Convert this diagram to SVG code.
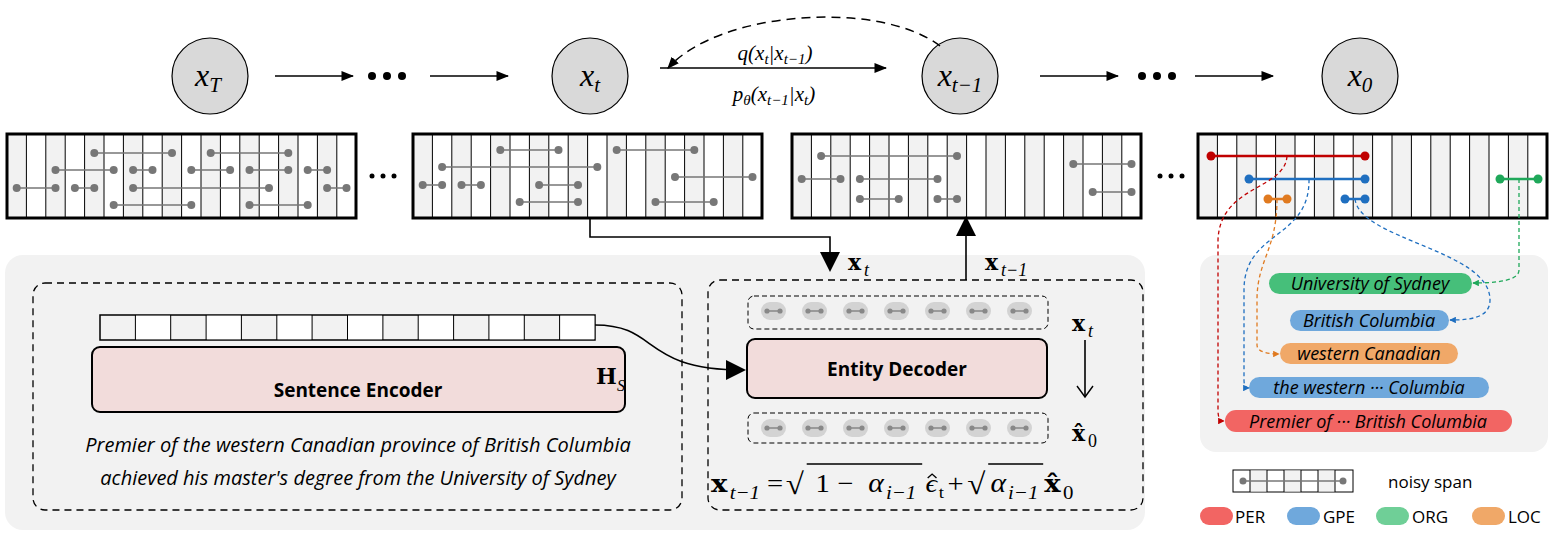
<svg xmlns="http://www.w3.org/2000/svg" width="1552" height="533" viewBox="0 0 1552 533">
<defs>
<style>
.node{fill:#d9d9d9;stroke:#000;stroke-width:1.2}
.m{font-family:"Liberation Serif","DejaVu Serif",serif;font-style:italic}
.r{font-family:"Liberation Serif","DejaVu Serif",serif}
.b{font-family:"DejaVu Serif","Liberation Serif",serif;font-weight:bold}
.s{font-family:"Open Sans","Liberation Sans",sans-serif}
.ln{stroke:#000;stroke-width:1.6;fill:none}
.sg{stroke:#777;stroke-width:1.5}
.dt{fill:#777}
.frame{fill:none;stroke:#000;stroke-width:3}
.cg{fill:#f2f2f2}
.cl{stroke:#000;stroke-width:1}
.dash{fill:none;stroke:#000;stroke-width:1.3;stroke-dasharray:7 5}
.pill{fill:#d3d3d3}
</style>
<marker id="ah" viewBox="0 0 10 10" refX="9" refY="5" markerWidth="8" markerHeight="8" orient="auto"><path d="M0,1 L10,5 L0,9 z" fill="#000"/></marker>
<marker id="ahb2" viewBox="0 0 10 10" refX="9" refY="5" markerWidth="20" markerHeight="20" markerUnits="userSpaceOnUse" orient="auto"><path d="M0,0 L10,5 L0,10 z" fill="#000"/></marker>
<marker id="ar" viewBox="0 0 10 10" refX="9" refY="5" markerWidth="5" markerHeight="5" orient="auto"><path d="M0,0 L10,5 L0,10 z" fill="#c00000"/></marker>
<marker id="ab" viewBox="0 0 10 10" refX="9" refY="5" markerWidth="5" markerHeight="5" orient="auto"><path d="M0,0 L10,5 L0,10 z" fill="#1f6fc0"/></marker>
<marker id="ao" viewBox="0 0 10 10" refX="9" refY="5" markerWidth="5" markerHeight="5" orient="auto"><path d="M0,0 L10,5 L0,10 z" fill="#e07a20"/></marker>
<marker id="ag" viewBox="0 0 10 10" refX="9" refY="5" markerWidth="5" markerHeight="5" orient="auto"><path d="M0,0 L10,5 L0,10 z" fill="#1fa85a"/></marker>
<g id="cols">
<rect x="0" y="0" width="19.4" height="84" class="cg"/><rect x="38.8" y="0" width="19.4" height="84" class="cg"/><rect x="77.6" y="0" width="19.4" height="84" class="cg"/><rect x="116.4" y="0" width="19.4" height="84" class="cg"/><rect x="155.2" y="0" width="19.4" height="84" class="cg"/><rect x="194" y="0" width="19.4" height="84" class="cg"/><rect x="232.8" y="0" width="19.4" height="84" class="cg"/><rect x="271.6" y="0" width="19.4" height="84" class="cg"/><rect x="310.4" y="0" width="19.4" height="84" class="cg"/>
<path class="cl" d="M19.4,0V84M38.8,0V84M58.2,0V84M77.6,0V84M97,0V84M116.4,0V84M135.8,0V84M155.2,0V84M174.6,0V84M194,0V84M213.4,0V84M232.8,0V84M252.2,0V84M271.6,0V84M291,0V84M310.4,0V84M329.8,0V84"/>
<rect x="0" y="0" width="349" height="84" class="frame"/>
</g>
</defs>
<rect width="1552" height="533" fill="#fff"/>
<rect x="5" y="255" width="1140" height="275" rx="18" fill="#f2f2f2"/>
<rect x="1200" y="255" width="348" height="197" rx="16" fill="#f2f2f2"/>

<g id="nodes">
<g id="n-xT"><circle cx="210" cy="76" r="38" class="node"/><text x="208" y="86" text-anchor="middle" class="m" font-size="32">x<tspan font-size="21" dy="6">T</tspan></text></g>
<g id="n-xt"><circle cx="590" cy="76" r="38" class="node"/><text x="590" y="86" text-anchor="middle" class="m" font-size="32">x<tspan font-size="21" dy="6">t</tspan></text></g>
<g id="n-xt1"><circle cx="960" cy="76" r="38" class="node"/><text x="960" y="86" text-anchor="middle" class="m" font-size="32">x<tspan font-size="21" dy="6">t−1</tspan></text></g>
<g id="n-x0"><circle cx="1360" cy="76" r="38" class="node"/><text x="1360" y="86" text-anchor="middle" class="m" font-size="32">x<tspan font-size="21" dy="6">0</tspan></text></g>
<g fill="#000"><circle cx="372" cy="76" r="4"/><circle cx="387" cy="76" r="4"/><circle cx="402" cy="76" r="4"/><circle cx="1142" cy="76" r="4"/><circle cx="1157" cy="76" r="4"/><circle cx="1172" cy="76" r="4"/>
<circle cx="372" cy="176" r="2.5"/><circle cx="383" cy="176" r="2.5"/><circle cx="394" cy="176" r="2.5"/><circle cx="1160" cy="176" r="2.5"/><circle cx="1171" cy="176" r="2.5"/><circle cx="1182" cy="176" r="2.5"/></g>

<g id="strip1" transform="translate(7,134)"><use href="#cols"/>
<g class="sg"><path d="M87.3,19H165M203.7,19H281.3M48.5,36H106.7M126.1,36H145.5M184.3,36H223.1M242.5,36H281.3M300.7,36H320.1M9.7,54H48.5M67.9,54H87.3M126.1,54H262M320.1,54H339.5M106.7,71H184.3M242.5,71H300.7"/></g>
<g class="dt"><circle cx="87.3" cy="19" r="4"/><circle cx="165" cy="19" r="4"/><circle cx="203.7" cy="19" r="4"/><circle cx="281.3" cy="19" r="4"/><circle cx="48.5" cy="36" r="4"/><circle cx="106.7" cy="36" r="4"/><circle cx="126.1" cy="36" r="4"/><circle cx="145.5" cy="36" r="4"/><circle cx="184.3" cy="36" r="4"/><circle cx="223.1" cy="36" r="4"/><circle cx="242.5" cy="36" r="4"/><circle cx="281.3" cy="36" r="4"/><circle cx="300.7" cy="36" r="4"/><circle cx="320.1" cy="36" r="4"/><circle cx="9.7" cy="54" r="4"/><circle cx="48.5" cy="54" r="4"/><circle cx="67.9" cy="54" r="4"/><circle cx="87.3" cy="54" r="4"/><circle cx="126.1" cy="54" r="4"/><circle cx="262" cy="54" r="4"/><circle cx="320.1" cy="54" r="4"/><circle cx="339.5" cy="54" r="4"/><circle cx="106.7" cy="71" r="4"/><circle cx="184.3" cy="71" r="4"/><circle cx="242.5" cy="71" r="4"/><circle cx="300.7" cy="71" r="4"/></g></g>

<g id="strip2" transform="translate(413,134)"><use href="#cols"/>
<g class="sg"><path d="M87.3,16H145.5M203.7,16H281.3M29.1,33H184.3M262,43H339.5M9.7,51H29.1M48.5,51H67.9M126.1,51H165M106.7,68H165M242.5,68H300.7"/></g>
<g class="dt"><circle cx="87.3" cy="16" r="4"/><circle cx="145.5" cy="16" r="4"/><circle cx="203.7" cy="16" r="4"/><circle cx="281.3" cy="16" r="4"/><circle cx="29.1" cy="33" r="4"/><circle cx="184.3" cy="33" r="4"/><circle cx="262" cy="43" r="4"/><circle cx="339.5" cy="43" r="4"/><circle cx="9.7" cy="51" r="4"/><circle cx="29.1" cy="51" r="4"/><circle cx="48.5" cy="51" r="4"/><circle cx="67.9" cy="51" r="4"/><circle cx="126.1" cy="51" r="4"/><circle cx="165" cy="51" r="4"/><circle cx="106.7" cy="68" r="4"/><circle cx="165" cy="68" r="4"/><circle cx="242.5" cy="68" r="4"/><circle cx="300.7" cy="68" r="4"/></g></g>

<g id="strip3" transform="translate(792,134)"><use href="#cols"/>
<g class="sg"><path d="M29.1,22H165M281.3,30H339.5M9.7,45H48.5M67.9,45H145.5M300.7,58H339.5M67.9,65H106.7M145.5,65H165"/></g>
<g class="dt"><circle cx="29.1" cy="22" r="4"/><circle cx="165" cy="22" r="4"/><circle cx="281.3" cy="30" r="4"/><circle cx="339.5" cy="30" r="4"/><circle cx="9.7" cy="45" r="4"/><circle cx="48.5" cy="45" r="4"/><circle cx="67.9" cy="45" r="4"/><circle cx="145.5" cy="45" r="4"/><circle cx="300.7" cy="58" r="4"/><circle cx="339.5" cy="58" r="4"/><circle cx="67.9" cy="65" r="4"/><circle cx="106.7" cy="65" r="4"/><circle cx="145.5" cy="65" r="4"/><circle cx="165" cy="65" r="4"/></g></g>

<g id="strip4" transform="translate(1198,134)"><use href="#cols"/>
<path d="M13,22H167" stroke="#c00000" stroke-width="2.5"/><circle cx="13" cy="22" r="4.5" fill="#c00000"/><circle cx="167" cy="22" r="4.5" fill="#c00000"/>
<path d="M51,45H167" stroke="#1f6fc0" stroke-width="2.5"/><circle cx="51" cy="45" r="4.5" fill="#1f6fc0"/><circle cx="167" cy="45" r="4.5" fill="#1f6fc0"/>
<path d="M302,45H340" stroke="#1fa85a" stroke-width="2.5"/><circle cx="302" cy="45" r="4.5" fill="#1fa85a"/><circle cx="340" cy="45" r="4.5" fill="#1fa85a"/>
<path d="M70,65H89" stroke="#e07a20" stroke-width="2.5"/><circle cx="70" cy="65" r="4.5" fill="#e07a20"/><circle cx="89" cy="65" r="4.5" fill="#e07a20"/>
<path d="M147,65H167" stroke="#1f6fc0" stroke-width="2.5"/><circle cx="147" cy="65" r="4.5" fill="#1f6fc0"/><circle cx="167" cy="65" r="4.5" fill="#1f6fc0"/></g>

<g id="encoder-box"><rect x="33" y="283" width="649" height="227" rx="12" class="dash"/>
<g id="tokens"><rect x="100" y="315" width="495" height="25" fill="#f2f2f2" stroke="#000" stroke-width="1.5"/>
<path fill="#fff" d="M135.9,315.8h34.3v23.4h-34.3zM206.6,315.8h34.3v23.4h-34.3zM277.3,315.8h34.3v23.4h-34.3zM348,315.8h34.3v23.4h-34.3zM418.7,315.8h34.3v23.4h-34.3zM489.4,315.8h34.3v23.4h-34.3zM560.1,315.8h34.3v23.4h-34.3z"/>
<path stroke="#000" stroke-width="1" d="M135.4,315V340M170.7,315V340M206.1,315V340M241.4,315V340M276.8,315V340M312.1,315V340M347.5,315V340M382.9,315V340M418.2,315V340M453.6,315V340M488.9,315V340M524.3,315V340M559.6,315V340"/></g>
<rect x="92" y="347" width="533" height="65" rx="8" fill="#f2dcdb" stroke="#000" stroke-width="2"/>
<text x="358" y="397" text-anchor="middle" class="s" font-weight="bold" font-size="19">Sentence Encoder</text>
<text x="358" y="452" text-anchor="middle" class="s" font-style="italic" font-size="20">Premier of the western Canadian province of British Columbia</text>
<text x="358" y="485" text-anchor="middle" class="s" font-style="italic" font-size="20">achieved his master's degree from the University of Sydney</text>
<text x="596" y="384" class="b" font-size="22">H</text><text x="617" y="391" class="m" font-size="16">S</text></g>

<g id="decoder-box"><rect x="708" y="280" width="435" height="230" rx="12" class="dash"/>
<rect x="748" y="296" width="300" height="33" rx="6" fill="none" stroke="#000" stroke-dasharray="5 3"/>
<rect x="748" y="413" width="300" height="30" rx="6" fill="none" stroke="#000" stroke-dasharray="5 3"/>
<g id="pills">
<g id="pillrow"><rect x="761" y="302" width="25" height="18" rx="9" class="pill"/><rect x="802" y="302" width="25" height="18" rx="9" class="pill"/><rect x="843" y="302" width="25" height="18" rx="9" class="pill"/><rect x="884" y="302" width="25" height="18" rx="9" class="pill"/><rect x="925" y="302" width="25" height="18" rx="9" class="pill"/><rect x="966" y="302" width="25" height="18" rx="9" class="pill"/><rect x="1007" y="302" width="25" height="18" rx="9" class="pill"/>
<path d="M767,311h13M808,311h13M849,311h13M890,311h13M931,311h13M972,311h13M1013,311h13" stroke="#888" stroke-width="1.5"/>
<g fill="#888"><circle cx="767" cy="311" r="2.6"/><circle cx="780" cy="311" r="2.6"/><circle cx="808" cy="311" r="2.6"/><circle cx="821" cy="311" r="2.6"/><circle cx="849" cy="311" r="2.6"/><circle cx="862" cy="311" r="2.6"/><circle cx="890" cy="311" r="2.6"/><circle cx="903" cy="311" r="2.6"/><circle cx="931" cy="311" r="2.6"/><circle cx="944" cy="311" r="2.6"/><circle cx="972" cy="311" r="2.6"/><circle cx="985" cy="311" r="2.6"/><circle cx="1013" cy="311" r="2.6"/><circle cx="1026" cy="311" r="2.6"/></g></g>
<use href="#pillrow" y="117"/></g>
<rect x="747" y="339" width="300" height="59" rx="8" fill="#f2dcdb" stroke="#000" stroke-width="2"/>
<text x="897" y="376" text-anchor="middle" class="s" font-weight="bold" font-size="19">Entity Decoder</text>
<text x="1072" y="331" class="b" font-size="22">x</text><text x="1088" y="337" class="m" font-size="18">t</text>
<text x="1072" y="441" class="b" font-size="22">x̂</text><text x="1088" y="447" class="r" font-size="18">0</text>
<g id="formula" transform="translate(711,0) scale(1.1,1) translate(-711,0)">
<text x="711" y="492" class="b" font-size="25">x</text>
<text x="728" y="499" class="m" font-size="19">t−1</text>
<text x="762" y="492" class="r" font-size="26">=</text>
<text x="779" y="494" class="r" font-size="30">√</text>
<path d="M798,464H903M963,464H1013" stroke="#000" stroke-width="1.3"/>
<text x="806" y="492" class="r" font-size="26">1</text>
<text x="826" y="492" class="r" font-size="26">−</text>
<text x="854" y="492" class="m" font-size="27">α</text>
<text x="870" y="499" class="m" font-size="19">i−1</text>
<text x="906" y="492" class="m" font-size="26">ϵ</text>
<path d="M908,478L912,474L916,478" fill="none" stroke="#000" stroke-width="1.2"/>
<text x="918" y="498" class="r" font-size="17">t</text>
<text x="926" y="492" class="r" font-size="26">+</text>
<text x="944" y="494" class="r" font-size="30">√</text>
<text x="965" y="492" class="m" font-size="27">α</text>
<text x="981" y="499" class="m" font-size="19">i−1</text>
<text x="1014" y="492" class="b" font-size="25">x̂</text>
<text x="1031" y="499" class="r" font-size="19">0</text></g></g>

<g id="entities" class="s" font-style="italic" font-size="18" text-anchor="middle">
<g id="e-uos"><rect x="1269" y="273" width="203" height="21" rx="10.5" fill="#46bf7a"/><text x="1370" y="290">University of Sydney</text></g>
<g id="e-bc"><rect x="1290" y="310" width="159" height="21" rx="10.5" fill="#6fa8dc"/><text x="1369" y="327">British Columbia</text></g>
<g id="e-wc"><rect x="1280" y="343" width="178" height="21" rx="10.5" fill="#f0a868"/><text x="1369" y="360">western Canadian</text></g>
<g id="e-twc"><rect x="1249" y="377" width="240" height="21" rx="10.5" fill="#6fa8dc"/><text x="1369" y="394">the western ··· Columbia</text></g>
<g id="e-pbc"><rect x="1225" y="410" width="287" height="22" rx="11" fill="#f26563"/><text x="1368" y="428">Premier of ··· British Columbia</text></g></g>

<g id="legend" class="s" font-size="17">
<rect x="1233" y="470" width="120" height="22" fill="#fff" stroke="#000"/>
<path fill="#f2f2f2" d="M1250,470.5h17v21h-17zM1284,470.5h17v21h-17zM1318,470.5h17v21h-17z"/>
<path stroke="#000" d="M1250,470V492M1267,470V492M1284,470V492M1301,470V492M1318,470V492M1335,470V492"/>
<path d="M1243,481H1343" stroke="#777" stroke-width="1.3"/><circle cx="1243" cy="481" r="3.5" fill="#777"/><circle cx="1343" cy="481" r="3.5" fill="#777"/>
<text x="1388" y="488">noisy span</text>
<rect x="1200" y="507" width="33" height="18" rx="9" fill="#f26563"/><text x="1235" y="523">PER</text>
<rect x="1287" y="507" width="33" height="18" rx="9" fill="#6fa8dc"/><text x="1323" y="523">GPE</text>
<rect x="1376" y="507" width="33" height="18" rx="9" fill="#6fcf97"/><text x="1412" y="523">ORG</text>
<rect x="1472" y="507" width="33" height="18" rx="9" fill="#f0a868"/><text x="1508" y="523">LOC</text></g>
</g>

<g id="connectors">
<path class="ln" d="M275,76H353" marker-end="url(#ah)"/>
<path class="ln" d="M430,76H508" marker-end="url(#ah)"/>
<path class="ln" d="M660,68H886" marker-end="url(#ah)"/>
<path class="ln" d="M1040,76H1118" marker-end="url(#ah)"/>
<path class="ln" d="M1195,76H1273" marker-end="url(#ah)"/>
<path d="M940,46 C880,0 720,10 668,68" fill="none" stroke="#000" stroke-width="1.5" stroke-dasharray="9 6" marker-end="url(#ah)"/>
<text x="775" y="60" text-anchor="middle" class="m" font-size="21">q(x<tspan font-size="15" dy="4">t</tspan><tspan dy="-4">|x</tspan><tspan font-size="15" dy="4">t−1</tspan><tspan dy="-4">)</tspan></text>
<text x="774" y="101" text-anchor="middle" class="m" font-size="21">p<tspan font-size="15" dy="4">θ</tspan><tspan dy="-4">(x</tspan><tspan font-size="15" dy="4">t−1</tspan><tspan dy="-4">|x</tspan><tspan font-size="15" dy="4">t</tspan><tspan dy="-4">)</tspan></text>
<path class="ln" d="M590,218V237H830V270" stroke-width="2" marker-end="url(#ahb2)"/>
<text x="848" y="270" class="b" font-size="22">x</text><text x="864" y="276" class="m" font-size="18">t</text>
<path class="ln" d="M966,280V218" stroke-width="2" marker-end="url(#ahb2)"/>
<text x="985" y="270" class="b" font-size="22">x</text><text x="1001" y="276" class="m" font-size="18">t−1</text>
<path class="ln" d="M595,325 C660,325 640,370 744,370" stroke-width="2" marker-end="url(#ahb2)"/>
<path class="ln" d="M1085,340V396" stroke-width="1.4"/>
<path d="M1077,386L1085,397L1093,386" fill="none" stroke="#000" stroke-width="1.4"/>
<g fill="none" stroke-width="1.3" stroke-dasharray="4 3">
<path d="M1287,156 C1285,190 1220,185 1218,240 L1218,410 C1218,418 1220,421 1224,421" stroke="#c00000" marker-end="url(#ar)"/>
<path d="M1309,179 C1310,240 1244,230 1244,290 L1244,380 C1244,386 1246,388 1249,388" stroke="#1f6fc0" marker-end="url(#ab)"/>
<path d="M1277,199 C1277,250 1257,260 1257,300 L1257,345 C1257,352 1268,354 1279,354" stroke="#e07a20" marker-end="url(#ao)"/>
<path d="M1355,199 C1360,240 1490,250 1490,300 C1490,318 1470,320 1450,320" stroke="#1f6fc0" marker-end="url(#ab)"/>
<path d="M1519,179 L1519,270 C1519,280 1500,283 1473,283" stroke="#1fa85a" marker-end="url(#ag)"/></g>
</g>
</svg>
